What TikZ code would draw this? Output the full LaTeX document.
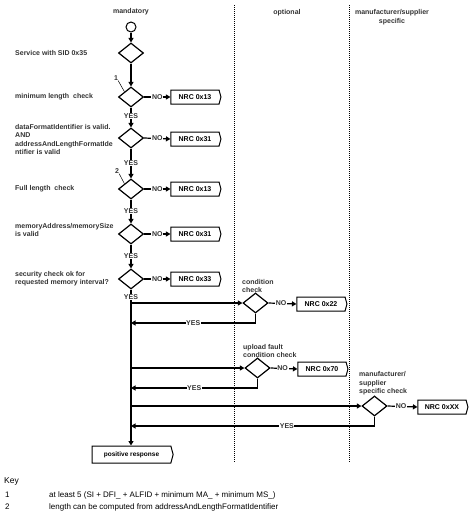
\documentclass[tikz,border=0pt]{standalone}
\usepackage{fontspec}
\setmainfont{Liberation Sans}
\usetikzlibrary{shapes.geometric,shapes.symbols,arrows.meta}
\begin{document}
\begin{tikzpicture}[x=1pt,y=-1pt,
 lbl/.style={font=\fontsize{7}{8.4}\selectfont\bfseries, inner sep=0pt, text=black!80},
 txt/.style={lbl, anchor=west, align=left},
 dec/.style={draw, diamond, minimum width=25pt, minimum height=20pt, inner sep=0pt, line width=1.2pt},
 nrc/.style={draw, signal, signal to=east, signal pointer angle=150, minimum width=50pt, minimum height=14pt, inner sep=0pt, line width=1pt, font=\fontsize{7}{8.4}\selectfont\bfseries},
 flow/.style={line width=1.2pt},
 arr/.style={flow, -{Triangle[length=4.5pt,width=5pt]}},
 yes/.style={lbl, fill=white, inner sep=0.6pt},
 keyt/.style={anchor=west, inner sep=0pt, font=\fontsize{8}{9.6}\selectfont},
 sep/.style={densely dotted, line width=1pt}]
\useasboundingbox (0,0) rectangle (474,515);
% headers
\node[lbl] (hm) at (131,12) {mandatory};
\node[lbl] (ho) at (287,13) {optional};
\node[lbl, align=center] (hs) at (392,17) {manufacturer/supplier\\specific};
% separators
\coordinate (s1a) at (234,5); \coordinate (s1b) at (234,463);
\coordinate (s2a) at (349,5); \coordinate (s2b) at (349,463);
\draw[sep] (s1a) -- (s1b);
\draw[sep] (s2a) -- (s2b);
% start
\node[draw, circle, minimum size=10pt, inner sep=0pt, line width=1pt] (st) at (131,27) {};
% diamonds
\node[dec] (d1) at (131,53) {};
\node[dec] (d2) at (131,97) {};
\node[dec] (d3) at (131,138) {};
\node[dec] (d4) at (131,189) {};
\node[dec] (d5) at (131,234) {};
\node[dec] (d6) at (131,279) {};
% left texts
\node[txt] (t1) at (15,53) {Service with SID 0x35};
\node[txt] (t2) at (15,97) {minimum length\ \ check};
\node[txt] (t3) at (15,139.5) {dataFormatIdentifier is valid.\\AND\\addressAndLengthFormatIde\\ntifier is valid};
\node[txt] (t4) at (15,189) {Full length\ \ check};
\node[txt] (t5) at (15,230) {memoryAddress/memorySize\\is valid};
\node[txt] (t6) at (15,278.5) {security check ok for\\requested memory interval?};
% NRC boxes
\node[nrc] (n1) at (195,97) {NRC 0x13};
\node[nrc] (n2) at (195,139) {NRC 0x31};
\node[nrc] (n3) at (195,189) {NRC 0x13};
\node[nrc] (n4) at (195,234) {NRC 0x31};
\node[nrc] (n5) at (195,279) {NRC 0x33};
% main chain
\draw[arr] (st) -- (d1);
\draw[arr] (d1) -- (d2);
\draw[arr] (d2) -- (d3);
\draw[arr] (d3) -- (d4);
\draw[arr] (d4) -- (d5);
\draw[arr] (d5) -- (d6);
\node[yes] (y2) at (131,116) {YES};
\node[yes] (y3) at (131,163) {YES};
\node[yes] (y4) at (131,211) {YES};
\node[yes] (y5) at (131,256) {YES};
% NO arrows
\foreach \d/\n in {d2/n1,d3/n2,d4/n3,d5/n4,d6/n5}{
  \draw[arr] (\d.east) -- node[yes, pos=0.5]{NO} (\n.west);
}
% footnote markers
\node[lbl] (k1) at (116,78) {1};
\node[lbl] (k2) at (117,171) {2};
\draw[line width=0.5pt] (k1.south east) -- (d2.north west);
\draw[line width=0.5pt] (k2.south east) -- (d4.north west);
% optional checks
\node[dec] (c1) at (255.5,303) {};
\node[dec] (c2) at (257.5,368) {};
\node[dec] (c3) at (374.5,406) {};
\node[txt] (ct1) at (242,286) {condition\\check};
\node[txt] (ct2) at (243,351) {upload fault\\condition check};
\node[txt] (ct3) at (359,383.5) {manufacturer/\\supplier\\specific check};
\node[nrc] (m1) at (321,304) {NRC 0x22};
\node[nrc] (m2) at (322,369) {NRC 0x70};
\node[nrc] (m3) at (442,407) {NRC 0xXX};
\foreach \d/\n in {c1/m1,c2/m2,c3/m3}{
  \draw[arr] (\d.east) -- node[yes, pos=0.45]{NO} (\n.west);
}
% positive response
\node[draw, signal, signal to=east, signal pointer angle=150, minimum width=81pt, minimum height=17pt, inner sep=0pt, line width=1pt, font=\fontsize{6.5}{8}\selectfont\bfseries] (pr) at (131.5,454.5) {positive response};
% trunk
\draw[arr] (d6.south) -- (d6.south |- pr.north);
\node[yes] (y6) at (131,297) {YES};
% forward lines
\coordinate (f1) at (131,303);
\coordinate (f2) at (131,368);
\coordinate (f3) at (131,406);
\draw[arr] (f1) -- (c1.west);
\draw[arr] (f2) -- (c2.west);
\draw[arr] (f3) -- (c3.west);
% return lines
\coordinate (r1) at (131,323);
\coordinate (r2) at (131,388);
\coordinate (r3) at (131,426);
\draw[arr] (c1.south) |- node[yes, pos=0.75]{YES} (r1);
\draw[arr] (c2.south) |- node[yes, pos=0.75]{YES} (r2);
\draw[arr] (c3.south) |- node[yes, pos=0.68]{YES} (r3);
% key
\node[anchor=west, inner sep=0pt, font=\fontsize{8.5}{10}\selectfont] (key) at (4,481) {Key};
\node[keyt] (ka) at (5,495) {1};
\node[keyt] (kat) at (49,495) {at least 5 (SI + DFI\_ + ALFID + minimum MA\_ + minimum MS\_)};
\node[keyt] (kb) at (5,507) {2};
\node[keyt] (kbt) at (49,507) {length can be computed from addressAndLengthFormatIdentifier};
\end{tikzpicture}
\end{document}
